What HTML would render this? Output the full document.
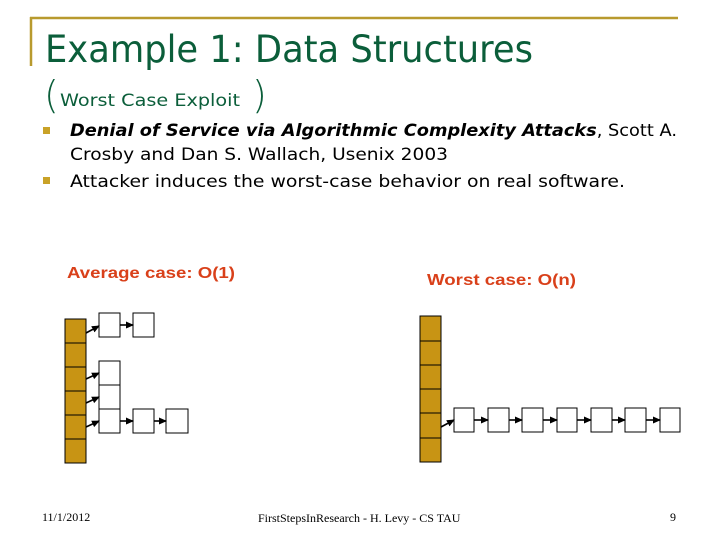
<!DOCTYPE html>
<html><head><meta charset="utf-8"><style>
html,body{margin:0;padding:0;background:#fff;}
svg{display:block;}
</style></head><body>
<svg width="720" height="540" xmlns="http://www.w3.org/2000/svg">
<defs><marker id="a" markerWidth="8" markerHeight="8" refX="7" refY="4" orient="auto" markerUnits="userSpaceOnUse"><path d="M0,0.5 L8,4 L0,7.5z" fill="#000"/></marker></defs>
<rect width="720" height="540" fill="#fff"/>
<line x1="30" y1="18" x2="678" y2="18" stroke="#b89a2e" stroke-width="2.5"/>
<line x1="31" y1="17" x2="31" y2="66" stroke="#b89a2e" stroke-width="2.5"/>
<g font-family="'DejaVu Sans','Liberation Sans',sans-serif" fill="#0b5e3a">
<text x="45" y="62" font-size="37" textLength="488" lengthAdjust="spacingAndGlyphs">Example 1: Data Structures</text>
<text x="44" y="108" font-size="38" font-weight="300">(</text>
<text x="60" y="106" font-size="17" textLength="180" lengthAdjust="spacingAndGlyphs">Worst Case Exploit</text>
<text x="252" y="108" font-size="38" font-weight="300">)</text>
</g>
<rect x="43" y="127" width="7" height="7" fill="#c9a227"/>
<rect x="43" y="177" width="7" height="7" fill="#c9a227"/>
<g font-family="'DejaVu Sans','Liberation Sans',sans-serif" font-size="17" fill="#000">
<text x="70" y="136" textLength="607" lengthAdjust="spacingAndGlyphs"><tspan font-weight="bold" font-style="italic">Denial of Service via Algorithmic Complexity Attacks</tspan>, Scott A.</text>
<text x="70" y="160" textLength="378" lengthAdjust="spacingAndGlyphs">Crosby and Dan S. Wallach, Usenix 2003</text>
<text x="70" y="187" textLength="555" lengthAdjust="spacingAndGlyphs">Attacker induces the worst-case behavior on real software.</text>
</g>
<g font-family="'Liberation Sans',sans-serif" font-size="16" font-weight="bold" fill="#d9401a">
<text x="67" y="278" textLength="168" lengthAdjust="spacingAndGlyphs">Average case:  O(1)</text>
<text x="427" y="285" textLength="149" lengthAdjust="spacingAndGlyphs">Worst case:  O(n)</text>
</g>
<g stroke="#000" stroke-width="1">
<rect x="65" y="319" width="21" height="144" fill="#c89414"/>
<line x1="65" y1="343" x2="86" y2="343"/><line x1="65" y1="367" x2="86" y2="367"/><line x1="65" y1="391" x2="86" y2="391"/><line x1="65" y1="415" x2="86" y2="415"/><line x1="65" y1="439" x2="86" y2="439"/>
<rect x="420" y="316" width="21" height="146" fill="#c89414"/>
<line x1="420" y1="341" x2="441" y2="341"/><line x1="420" y1="365" x2="441" y2="365"/><line x1="420" y1="389" x2="441" y2="389"/><line x1="420" y1="413" x2="441" y2="413"/><line x1="420" y1="438" x2="441" y2="438"/>
<g fill="#fff">
<rect x="99" y="313" width="21" height="24"/><rect x="133" y="313" width="21" height="24"/>
<rect x="99" y="361" width="21" height="24"/><rect x="99" y="385" width="21" height="24"/><rect x="99" y="409" width="21" height="24"/>
<rect x="133" y="409" width="21" height="24"/><rect x="166" y="409" width="22" height="24"/>
<rect x="454" y="408" width="20" height="24"/><rect x="488" y="408" width="21" height="24"/><rect x="522" y="408" width="21" height="24"/><rect x="557" y="408" width="20" height="24"/><rect x="591" y="408" width="21" height="24"/><rect x="625" y="408" width="21" height="24"/><rect x="660" y="408" width="20" height="24"/>
</g>
<g stroke-width="1.6" marker-end="url(#a)">
<line x1="86" y1="333" x2="99" y2="326"/><line x1="120" y1="325" x2="133" y2="325"/>
<line x1="86" y1="379" x2="99" y2="373"/><line x1="86" y1="403" x2="99" y2="397"/><line x1="86" y1="427" x2="99" y2="421"/>
<line x1="120" y1="421" x2="133" y2="421"/><line x1="154" y1="421" x2="166" y2="421"/>
<line x1="441" y1="427" x2="454" y2="420"/><line x1="474" y1="420" x2="488" y2="420"/><line x1="509" y1="420" x2="522" y2="420"/><line x1="543" y1="420" x2="557" y2="420"/><line x1="577" y1="420" x2="591" y2="420"/><line x1="612" y1="420" x2="625" y2="420"/><line x1="646" y1="420" x2="660" y2="420"/>
</g>
</g>
<g font-family="'Liberation Serif',serif" font-size="12" fill="#000">
<text x="42" y="521">11/1/2012</text>
<text x="258" y="522">FirstStepsInResearch - H. Levy - CS TAU</text>
<text x="670" y="521">9</text>
</g>
</svg>
</body></html>
